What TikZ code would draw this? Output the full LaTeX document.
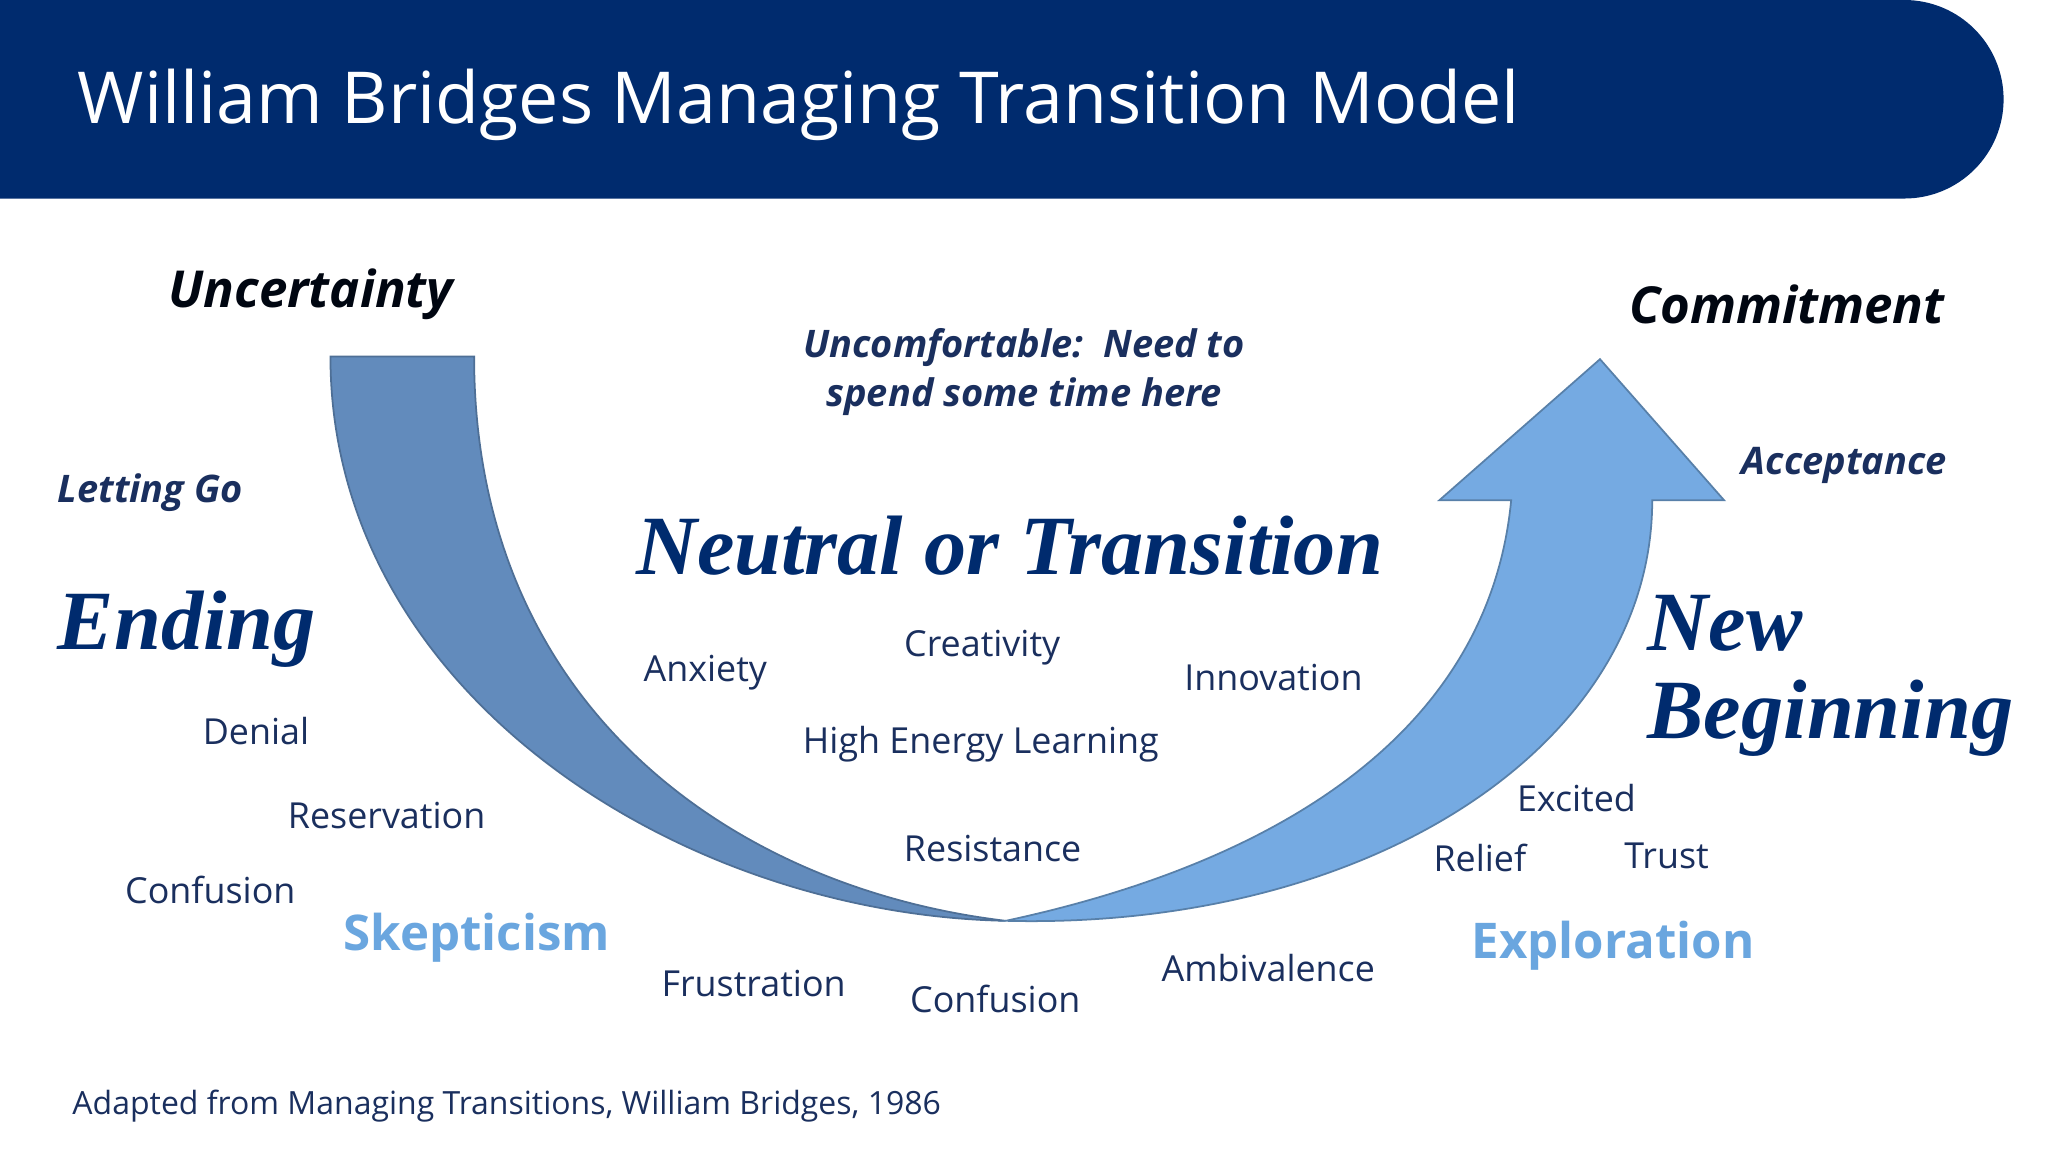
\documentclass[tikz,border=0pt]{standalone}
\usepackage{fontspec}
\setmainfont{Open Sans}
\newfontfamily\scr{Liberation Serif}
\definecolor{navy}{HTML}{002B6E}
\definecolor{txt}{HTML}{1A2F5E}
\definecolor{darkarc}{HTML}{628BBC}
\definecolor{lightarc}{HTML}{75AAE2}
\definecolor{sky}{HTML}{6AA6DF}
\begin{document}
\begin{tikzpicture}[x=0.013061cm,y=-0.013061cm,
  w/.style={text=txt,font=\fontsize{10.2}{12}\selectfont},
  bi/.style={text=txt,font=\fontsize{10.8}{14}\selectfont\bfseries\itshape,align=center},
  big/.style={text=black!85!navy,font=\fontsize{14.5}{16}\selectfont\bfseries\itshape},
  sc/.style={text=navy,font=\fontsize{24}{27}\selectfont\scr\bfseries\itshape,align=left},
  ph/.style={text=sky,font=\fontsize{14}{16}\selectfont\bfseries}]
\useasboundingbox (0,0) rectangle (1568,882);
\fill[white] (0,0) rectangle (1568,882);
\fill[navy] (0,0) -- (1458,0) arc[start angle=-90,end angle=90,radius=76] -- (0,152) -- cycle;
\node[anchor=west,text=white,font=\fontsize{20.4}{24}\selectfont] (title) at (50,80) {William Bridges Managing Transition Model};
% left arc
\path[fill=darkarc,draw=darkarc!80!black,line width=0.5pt] (253,273) .. controls (253,530) and (520,700) .. (770,705)
  .. controls (560,680) and (363,540) .. (363,273) -- cycle;
% right arrow
\path[fill=lightarc,draw=lightarc!75!black,line width=0.5pt] (770,705) .. controls (1050,712) and (1265,570) .. (1265,383)
  -- (1320,383) -- (1225,275) -- (1102,383) -- (1157,383)
  .. controls (1140,560) and (980,660) .. (770,705) -- cycle;
\node[big] (unc) at (238,225) {Uncertainty};
\node[big] (com) at (1368,233) {Commitment};
\node[bi] (unf) at (784,285) {Uncomfortable:\ \ Need to\\spend some time here};
\node[bi] (lg) at (115,377) {Letting Go};
\node[bi] (acc) at (1412,356) {Acceptance};
\node[sc] (end) at (143,482) {Ending};
\node[sc] (neu) at (773,418) {Neutral or Transition};
\node[sc,anchor=north west] (nb) at (1252,446) {New\\[-2pt]Beginning};
\node[w] (a1) at (196,560) {Denial};
\node[w] (a2) at (296,624) {Reservation};
\node[w] (a3) at (161,681) {Confusion};
\node[ph] (sk) at (365,718) {Skepticism};
\node[w] (b1) at (540,515) {Anxiety};
\node[w] (b2) at (752,496) {Creativity};
\node[w] (b3) at (975,519) {Innovation};
\node[w] (b4) at (751,570) {High Energy Learning};
\node[w] (b5) at (760,650) {Resistance};
\node[w] (b6) at (577,753) {Frustration};
\node[w] (b7) at (762,765) {Confusion};
\node[w] (b8) at (971,741) {Ambivalence};
\node[w] (c1) at (1207,611) {Excited};
\node[w] (c2) at (1133,657) {Relief};
\node[w] (c3) at (1276,655) {Trust};
\node[ph] (ex) at (1235,724) {Exploration};
\node[w,anchor=west,font=\fontsize{9.1}{12}\selectfont] (ft) at (46,847) {Adapted from Managing Transitions, William Bridges, 1986};
\end{tikzpicture}
\end{document}
